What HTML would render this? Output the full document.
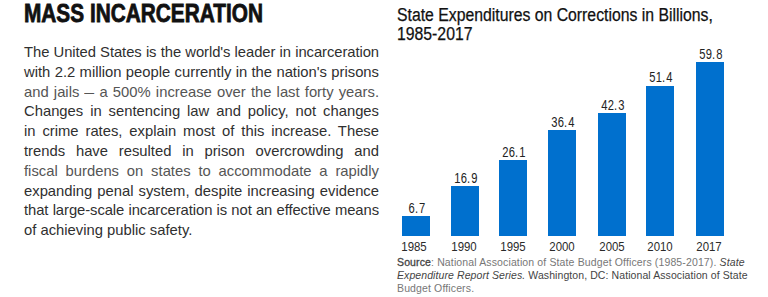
<!DOCTYPE html>
<html><head><meta charset="utf-8"><style>
html,body{margin:0;padding:0;background:#fff;width:768px;height:297px;overflow:hidden;position:relative;font-family:"Liberation Sans",sans-serif}
.title{position:absolute;left:23.5px;top:1.21px;font-weight:bold;font-size:25.5px;line-height:25.5px;color:#111;white-space:nowrap;transform-origin:0 0;transform:scaleX(0.816);-webkit-text-stroke:0.8px #111}
.ln{position:absolute;left:24px;width:355px;font-size:14.8px;line-height:14.8px;color:#303030;text-align:justify;text-align-last:justify;white-space:nowrap}
.ln.g{color:#555}
.ln.l{text-align-last:left}
.dash{display:inline-block;transform:scaleX(1.2);margin:0 0.8px}
.ct{position:absolute;left:397px;font-size:17.6px;line-height:17.6px;color:#111;white-space:nowrap;transform-origin:0 0;transform:scaleX(0.897);-webkit-text-stroke:0.25px #111}
.bar{position:absolute;width:27.7px;background:#0070ce}
.val,.yr{position:absolute;width:80px;text-align:center;color:#222;transform-origin:40px 0}
.val{font-size:14.0px;line-height:14.0px;transform:scaleX(0.80);letter-spacing:0.2px}
.sp{display:inline-block;width:1.2px}
.yr{font-size:13.0px;line-height:13.0px;transform:scaleX(0.88);color:#2a2a2a}
.src{position:absolute;left:397px;font-size:10.5px;line-height:10.5px;color:#777;white-space:nowrap;letter-spacing:0.13px}
.b{-webkit-text-stroke:0.3px #444}
.src .k{color:#444}
</style></head><body>
<div class="title">MASS INCARCERATION</div>
<div class="ln d" style="letter-spacing:-0.07px;top:45.07px">The United States is the world's leader in incarceration</div>
<div class="ln d" style="top:64.87px">with 2.2 million people currently in the nation's prisons</div>
<div class="ln g" style="top:84.67px">and jails <span class=dash>–</span> a 500% increase over the last forty years.</div>
<div class="ln d" style="top:104.47px">Changes in sentencing law and policy, not changes</div>
<div class="ln d" style="top:124.27px">in crime rates, explain most of this increase. These</div>
<div class="ln d" style="top:144.07px">trends have resulted in prison overcrowding and</div>
<div class="ln g" style="top:163.87px">fiscal burdens on states to accommodate a rapidly</div>
<div class="ln d" style="top:183.67px">expanding penal system, despite increasing evidence</div>
<div class="ln d" style="letter-spacing:-0.07px;top:203.47px">that large-scale incarceration is not an effective means</div>
<div class="ln l" style="top:223.27px">of achieving public safety.</div>

<div class="ct" style="top:7.20px">State Expenditures on Corrections in Billions,</div>
<div class="ct" style="top:26.10px">1985-2017</div>
<div class="bar" style="left:402.20px;top:215.90px;height:19.80px"></div>
<div class="val" style="left:377.10px;top:200.75px">6.<span class=sp></span>7</div>
<div class="yr" style="left:373.90px;top:239.60px">1985</div>
<div class="bar" style="left:451.00px;top:186.00px;height:49.70px"></div>
<div class="val" style="left:425.90px;top:170.85px">16.<span class=sp></span>9</div>
<div class="yr" style="left:423.50px;top:239.60px">1990</div>
<div class="bar" style="left:499.20px;top:160.10px;height:75.60px"></div>
<div class="val" style="left:474.10px;top:144.95px">26.<span class=sp></span>1</div>
<div class="yr" style="left:472.60px;top:239.60px">1995</div>
<div class="bar" style="left:547.90px;top:130.20px;height:105.50px"></div>
<div class="val" style="left:522.80px;top:115.05px">36.<span class=sp></span>4</div>
<div class="yr" style="left:521.70px;top:239.60px">2000</div>
<div class="bar" style="left:598.10px;top:112.70px;height:123.00px"></div>
<div class="val" style="left:573.00px;top:97.55px">42.<span class=sp></span>3</div>
<div class="yr" style="left:571.70px;top:239.60px">2005</div>
<div class="bar" style="left:646.30px;top:85.60px;height:150.10px"></div>
<div class="val" style="left:621.20px;top:70.45px">51.<span class=sp></span>4</div>
<div class="yr" style="left:620.20px;top:239.60px">2010</div>
<div class="bar" style="left:695.90px;top:62.00px;height:173.70px"></div>
<div class="val" style="left:670.80px;top:46.85px">59.<span class=sp></span>8</div>
<div class="yr" style="left:669.00px;top:239.60px">2017</div>

<div class="src" style="top:257.01px"><span class="k b">Source</span>: National Association of State Budget Officers (1985-2017). <i class="k">State</i></div>
<div class="src" style="color:#444;letter-spacing:0.085px;top:270.31px"><i>Expenditure Report Series.</i> Washington, DC: National Association of State</div>
<div class="src" style="top:282.81px">Budget Officers.</div>
</body></html>
